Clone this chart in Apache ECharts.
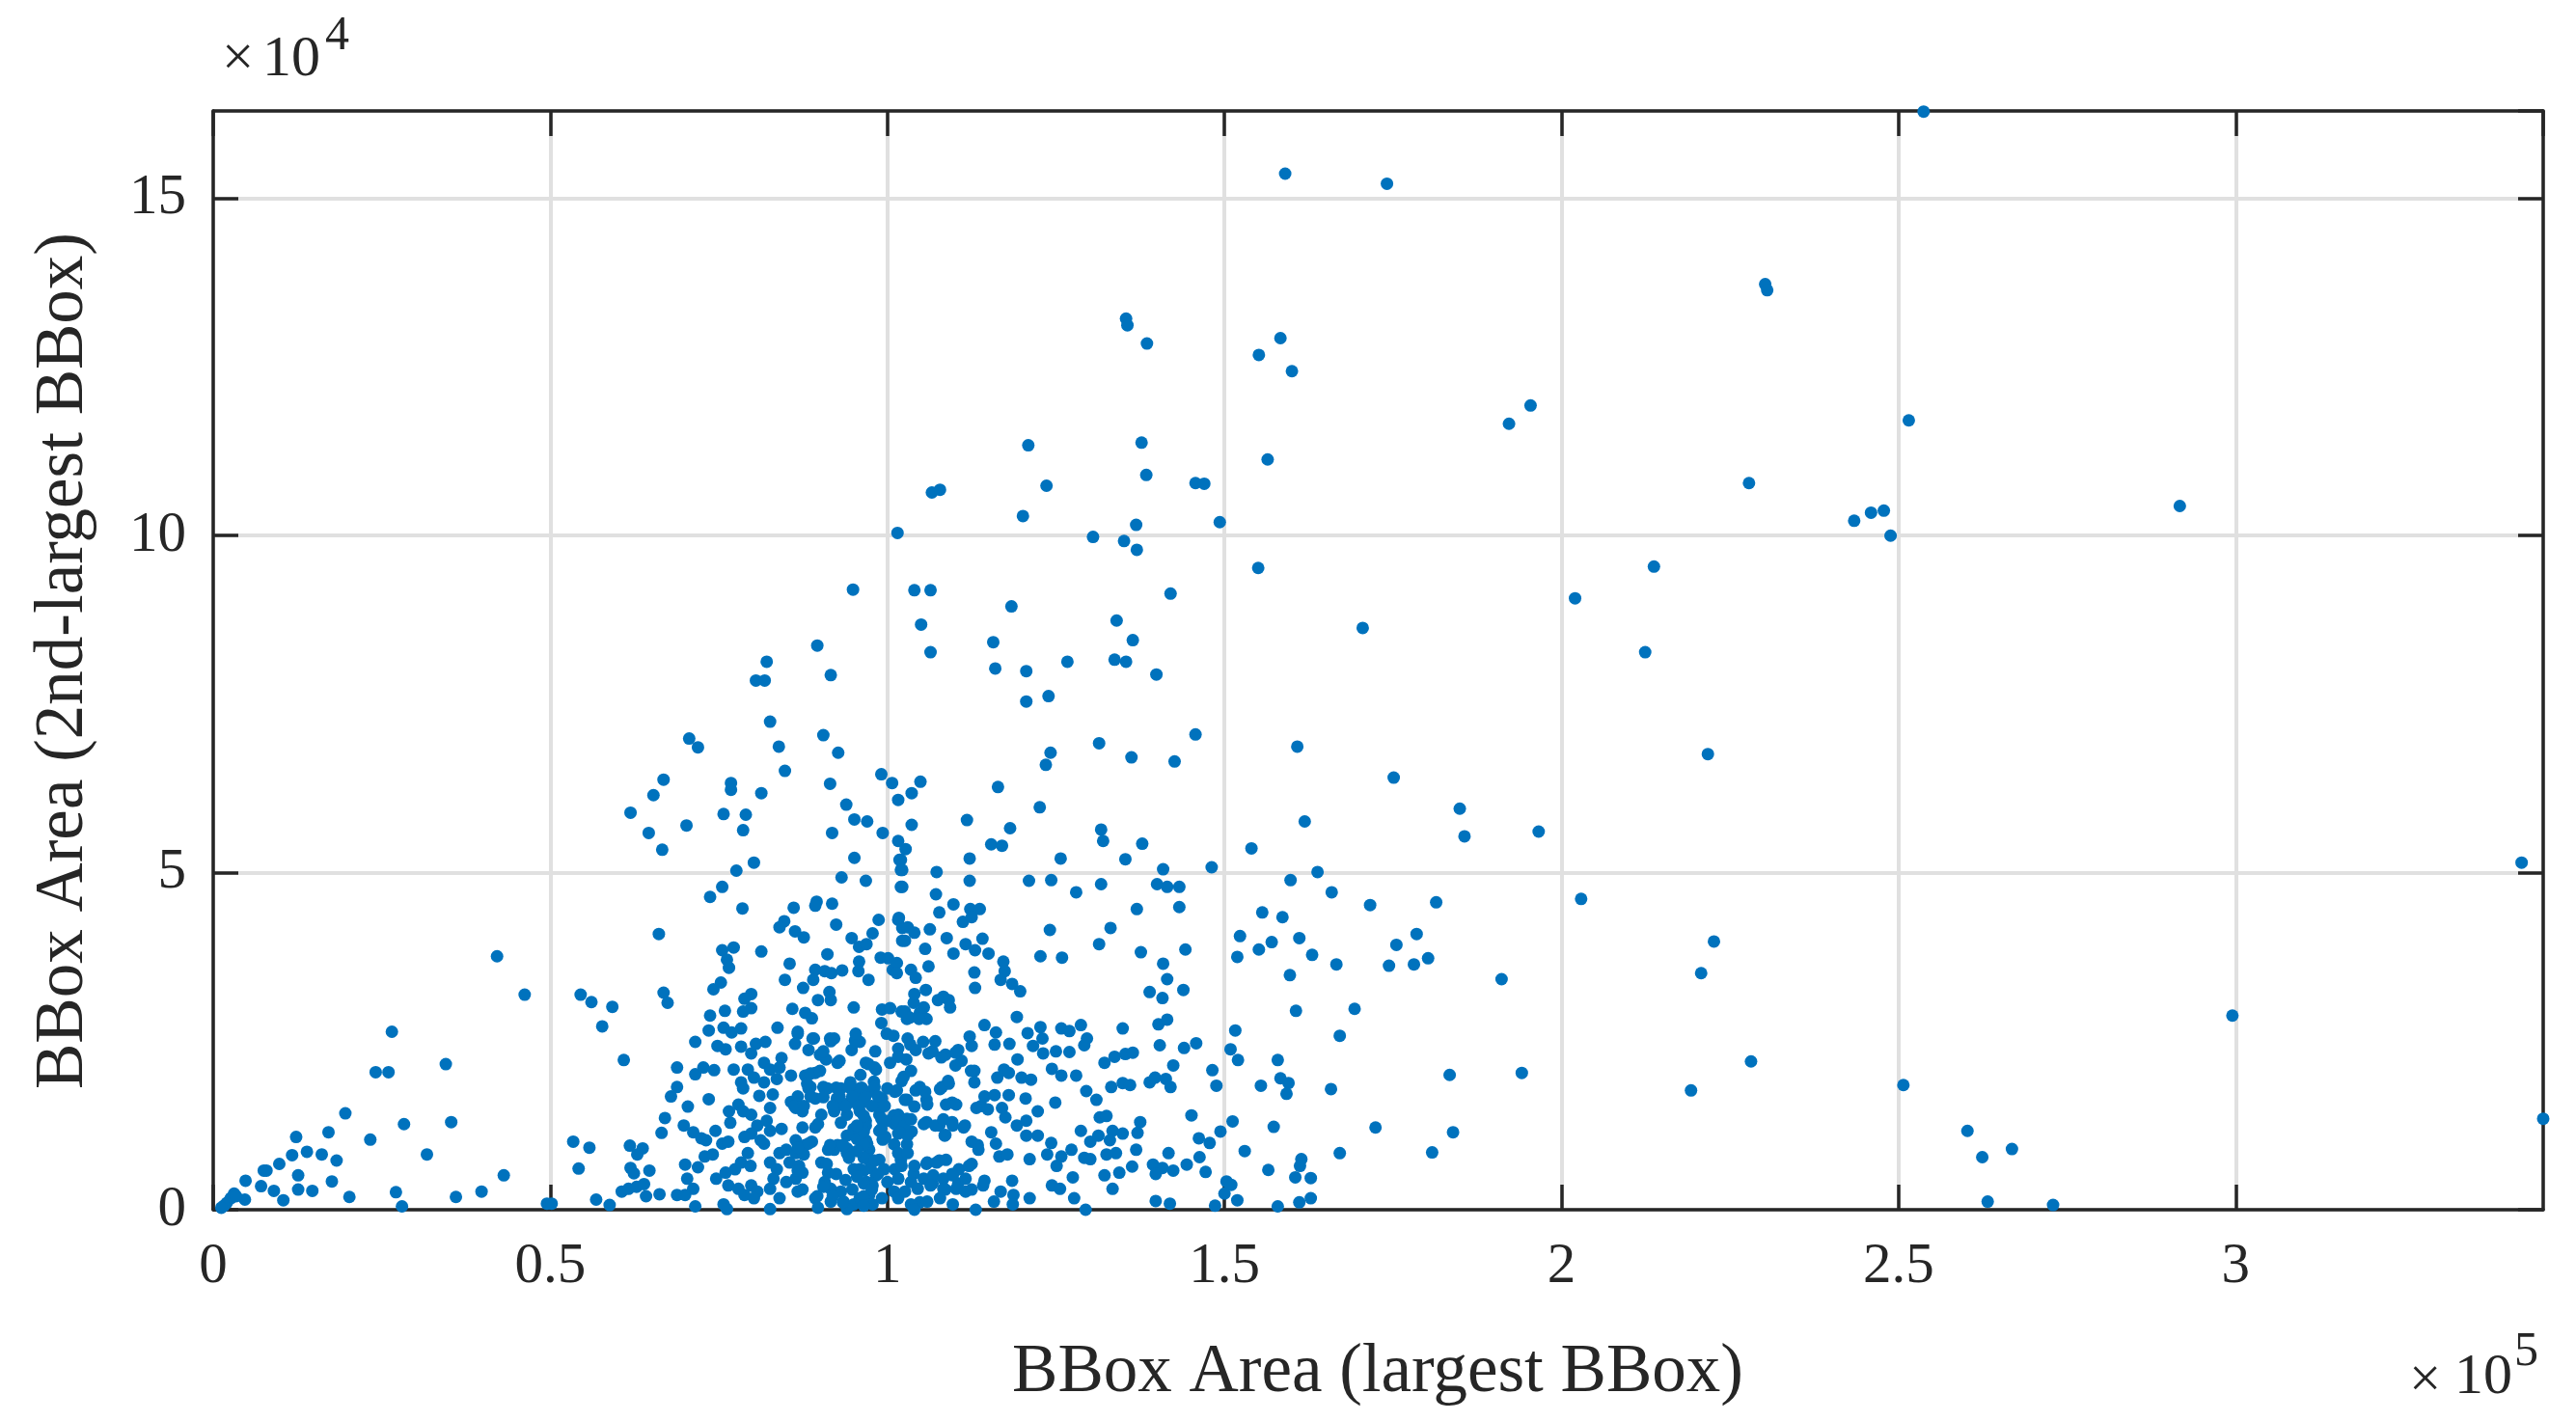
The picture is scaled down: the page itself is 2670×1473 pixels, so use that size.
<!DOCTYPE html>
<html>
<head>
<meta charset="utf-8">
<script src="https://cdn.jsdelivr.net/npm/echarts@6/dist/echarts.min.js"></script>
<style>
html,body{margin:0;padding:0;background:#fff;}
#chart{width:2670px;height:1473px;}
</style>
</head>
<body>
<div id="chart"></div>
<script>
// Values are in axis units: x in 10^5, y in 10^4
const xTickLabels = [0, 0.5, 1, 1.5, 2, 2.5, 3];
const yTickLabels = [0, 5, 10, 15];

const pointsNearOrigin = [
[0.421,3.76],[0.462,3.19],[0.265,2.64],[0.241,2.04],[0.260,2.04],[0.345,2.16],[0.196,1.43],[0.171,1.15],[0.123,1.08],[0.233,1.04],
[0.283,1.27],[0.353,1.30],[0.317,0.82],[0.139,0.86],[0.161,0.82],[0.117,0.81],[0.183,0.73],[0.075,0.58],[0.079,0.58],[0.098,0.68],
[0.126,0.51],[0.048,0.43],[0.071,0.35],[0.090,0.28],[0.126,0.30],[0.147,0.28],[0.176,0.42],[0.271,0.26],[0.431,0.51],[0.398,0.27],
[0.202,0.19],[0.360,0.19],[0.280,0.05],[0.104,0.14],[0.047,0.15],[0.031,0.24],[0.026,0.17],[0.020,0.10],[0.016,0.06],[0.034,0.20],
[0.012,0.03],[0.495,0.09],[0.502,0.09],[0.568,0.15],[0.588,0.07],[0.534,1.01],[0.558,0.92],[0.542,0.61],[0.545,3.19],[0.561,3.08],
[0.592,3.01],[0.577,2.72],[0.609,2.22],[0.619,5.89],[0.653,6.15],[0.668,6.38],[0.646,5.59],[0.666,5.34],[0.702,5.70],[0.706,6.99],
[0.661,4.09],[0.668,3.22],[0.674,3.07],[0.679,1.68],[0.670,1.36],[0.665,1.14],[0.618,0.95],[0.637,0.91],[0.629,0.82],[0.619,0.62],
[0.624,0.54],[0.647,0.58],[0.606,0.27],[0.616,0.31],[0.628,0.34],[0.639,0.38],[0.642,0.20],[0.662,0.23]
];

const pointsCoreLeft = [
[0.802,5.15],[0.776,5.03],[0.755,4.79],[0.737,4.64],[0.785,4.47],[0.951,5.22],[0.932,4.93],[0.968,4.88],[1.020,5.19],[1.020,5.04],
[1.020,4.79],[0.861,4.48],[0.895,4.57],[0.893,4.51],[0.918,4.54],[0.924,4.23],[0.847,4.28],[0.840,4.19],[0.863,4.13],[0.876,4.04],
[0.987,4.30],[0.978,4.10],[0.947,4.03],[0.958,3.90],[0.969,3.94],[1.016,4.30],[1.022,4.18],[1.022,3.99],[0.755,3.85],[0.772,3.89],
[0.762,3.71],[0.765,3.59],[0.813,3.83],[0.911,3.79],[0.855,3.65],[0.848,3.41],[0.893,3.56],[0.907,3.54],[0.917,3.51],[0.933,3.55],
[0.890,3.41],[0.875,3.29],[0.958,3.68],[0.957,3.54],[0.972,3.41],[0.990,3.74],[1.001,3.73],[1.008,3.56],[0.753,3.37],[0.742,3.27],
[0.798,3.20],[0.788,3.13],[0.798,2.99],[0.786,2.94],[0.737,2.88],[0.735,2.66],[0.759,2.95],[0.757,2.70],[0.769,2.63],[0.783,2.69],
[0.837,2.70],[0.897,3.11],[0.914,3.23],[0.916,3.11],[0.859,2.98],[0.878,2.92],[0.888,2.84],[0.950,3.00],[0.992,2.97],[1.004,2.99],
[0.991,2.77],[0.999,2.61],[1.009,2.58],[0.867,2.61],[0.863,2.46],[0.889,2.54],[0.883,2.37],[0.916,2.50],[0.921,2.54],[0.952,2.51],
[0.959,2.49],[0.947,2.37],[0.982,2.35],[1.016,2.39],[0.715,2.49],[0.748,2.43],[0.760,2.38],[0.783,2.42],[0.798,2.32],[0.805,2.46],
[0.819,2.49],[0.843,2.25],[0.900,2.30],[0.909,2.23],[0.926,2.18],[0.968,2.18],[0.983,2.08],[1.004,2.18],[1.016,2.27],[0.688,2.11],
[0.715,2.01],[0.727,2.11],[0.743,2.07],[0.772,2.08],[0.793,2.08],[0.783,1.89],[0.802,1.96],[0.817,2.18],[0.826,2.08],[0.840,2.11],
[0.836,1.94],[0.857,1.99],[0.817,1.89],[0.688,1.82],[0.786,1.80],[0.810,1.69],[0.830,1.71],[0.735,1.64],[0.704,1.53],[0.878,1.99],
[0.893,2.03],[0.883,1.80],[0.893,1.65],[0.911,1.80],[0.931,1.80],[0.945,1.89],[0.959,1.80],[0.973,1.75],[0.992,1.65],[1.011,1.75],
[0.857,1.60],[0.864,1.51],[0.874,1.46],[0.765,1.46],[0.767,1.29],[0.779,1.56],[0.786,1.46],[0.698,1.25],[0.712,1.15],[0.724,1.06],
[0.731,1.03],[0.745,1.17],[0.798,1.41],[0.807,1.25],[0.798,1.13],[0.788,1.08],[0.826,1.51],[0.821,1.32],[0.826,1.17],[0.843,1.20],
[0.817,0.98],[0.812,1.03],[0.793,0.84],[0.755,0.98],[0.764,1.01],[0.902,1.41],[0.921,1.46],[0.931,1.29],[0.940,1.41],[0.959,1.46],
[0.968,1.32],[0.988,1.41],[1.002,1.32],[1.016,1.41],[0.893,1.22],[0.897,1.27],[0.874,1.22],[0.864,1.03],[0.878,0.96],[0.888,1.01],
[0.964,1.17],[0.968,1.03],[0.973,0.89],[0.988,1.17],[0.997,1.08],[1.016,1.13],[1.011,1.27],[0.912,0.89],[0.926,0.96],[0.940,0.91],
[0.700,0.67],[0.719,0.63],[0.729,0.79],[0.741,0.82],[0.703,0.46],[0.712,0.31],[0.688,0.22],[0.700,0.22],[0.715,0.05],[0.746,0.46],
[0.760,0.55],[0.774,0.60],[0.783,0.70],[0.797,0.65],[0.764,0.36],[0.779,0.31],[0.798,0.36],[0.807,0.27],[0.788,0.22],[0.802,0.17],
[0.757,0.08],[0.762,0.01],[0.826,0.70],[0.836,0.60],[0.840,0.84],[0.850,0.89],[0.831,0.46],[0.826,0.31],[0.840,0.17],[0.826,0.01],
[0.864,0.84],[0.874,0.89],[0.883,0.98],[0.855,0.70],[0.869,0.65],[0.850,0.41],[0.864,0.46],[0.874,0.55],[0.867,0.27],[0.893,0.17],
[0.897,0.03],[0.902,0.70],[0.912,0.55],[0.907,0.41],[0.916,0.31],[0.931,0.27],[0.916,0.12],[0.921,0.89],[0.935,0.94],[0.940,0.84],
[0.950,0.60],[0.935,0.12],[0.950,0.08],[0.940,0.01],[0.959,0.60],[0.969,0.41],[0.978,0.36],[0.983,0.51],[0.973,0.22],[0.978,0.08],
[0.959,0.17],[0.966,1.60],[0.968,1.25],[0.970,0.98],[0.972,0.75],[0.975,0.62],[0.988,0.74],[0.995,0.60],[1.000,0.41],[1.010,0.27],
[1.016,0.46],[1.011,0.60],[1.020,0.74],[1.016,0.17],[0.992,0.17],[0.945,1.60],[0.955,1.70],[0.935,1.55],[0.950,1.20],[0.940,1.10],
[0.955,1.05],[0.985,1.55],[0.980,1.90],[0.925,1.65],[0.960,2.00]
];

const pointsCoreDense = [
[0.886,1.82],[0.905,1.82],[0.924,1.81],[0.943,1.82],[0.962,1.81],[0.981,1.82],[1.000,1.80],
[0.867,1.68],[0.886,1.68],[0.905,1.67],[0.929,1.68],[0.948,1.68],[0.967,1.67],[0.986,1.68],
[0.862,1.54],[0.876,1.54],[0.919,1.54],[0.938,1.53],[0.957,1.54],[0.977,1.54],[0.996,1.54],
[0.991,1.35],[1.010,1.40],[1.029,1.35],[1.036,1.16],[1.029,0.97],[1.010,0.97],[0.993,1.04],[0.991,1.20],
[0.965,1.39],[0.965,1.16],[0.965,0.96],[0.965,0.77],[0.965,0.58],[0.965,0.39],[0.965,0.20],[0.965,0.06],
[0.955,1.25],[0.955,0.87],[0.955,0.49],
[0.910,0.68],[0.924,0.53],[0.905,0.34],[0.919,0.20],[0.934,0.11],[0.948,0.30],[0.938,0.44],[0.977,0.30],[0.986,0.53],[0.981,0.73],
[0.896,0.20],[0.943,0.77],[0.915,0.96],[0.934,0.96],[0.876,0.82],[0.867,0.58],[0.874,0.30],[0.867,0.92],
[0.886,2.02],[0.900,2.06],[0.881,1.87],
[0.867,2.64],[0.891,2.54],[0.905,2.35],[0.929,2.21],[0.915,2.54],[0.953,2.49],[0.953,2.61],[0.981,2.11],[0.972,2.16],
[1.058,1.30],[1.077,1.25],[1.096,1.30],[1.115,1.25],[1.086,1.11],[1.058,0.68],[1.077,0.73],[1.096,0.53],[1.067,0.39],[1.086,0.30],
[1.105,0.39],[1.125,0.30],[1.048,0.11],[1.125,0.68],[1.134,0.96],[1.039,0.53],
[1.039,3.07],[1.048,2.92],[1.029,2.83],[1.058,2.83],[1.091,3.11],[1.034,2.45],[1.053,2.49],[1.067,2.35],[1.086,2.30],[1.105,2.37],
[1.110,2.21],[1.129,2.06],[1.091,1.87],[1.081,1.82],[1.048,1.82],[1.024,1.97],[1.029,1.63],[1.058,1.63],[1.096,1.59],[1.139,1.54]
];

const pointsCoreMid = [
[1.018,5.19],[1.022,5.04],[1.022,4.79],[1.122,5.21],[1.257,5.21],[1.353,5.20],[1.073,5.01],[1.122,4.88],[1.210,4.88],[1.243,4.89],
[1.280,4.71],[1.317,4.83],[1.072,4.68],[1.077,4.41],[1.098,4.53],[1.123,4.46],[1.137,4.46],[1.112,4.27],[1.125,4.34],[1.017,4.33],
[1.030,4.19],[1.040,4.11],[1.026,3.99],[1.063,4.16],[1.088,4.03],[1.056,3.87],[1.098,3.80],[1.116,3.94],[1.130,3.85],[1.141,4.02],
[1.150,3.80],[1.241,4.15],[1.331,4.18],[1.314,3.94],[1.227,3.76],[1.259,3.74],[1.014,3.66],[1.014,3.51],[1.035,3.56],[1.042,3.44],
[1.061,3.61],[1.172,3.68],[1.174,3.54],[1.168,3.41],[1.185,3.35],[1.197,3.24],[1.129,3.52],[1.130,3.29],[1.040,3.20],[1.057,3.26],
[1.026,2.94],[1.033,2.85],[1.047,2.83],[1.054,3.00],[1.021,2.94],[1.083,3.16],[1.093,3.00],[1.075,3.11],[1.192,2.86],[1.144,2.74],
[1.161,2.63],[1.122,2.57],[1.125,2.43],[1.159,2.45],[1.181,2.46],[1.193,2.23],[1.208,2.62],[1.227,2.71],[1.230,2.54],[1.216,2.43],
[1.231,2.32],[1.258,2.69],[1.270,2.65],[1.287,2.74],[1.296,2.54],[1.292,2.44],[1.250,2.35],[1.270,2.34],[1.349,2.69],[1.322,2.18],
[1.337,2.27],[1.353,2.31],[1.030,2.54],[1.042,2.37],[1.028,2.23],[1.061,2.32],[1.071,2.50],[1.080,2.26],[1.101,2.33],[1.101,2.14],
[1.035,2.06],[1.021,1.91],[1.014,1.77],[1.026,1.63],[1.042,1.77],[1.056,1.75],[1.059,1.56],[1.040,1.53],[1.078,1.79],[1.090,1.91],
[1.087,1.56],[1.102,1.56],[1.124,2.06],[1.129,1.89],[1.163,1.96],[1.173,2.08],[1.180,2.03],[1.199,1.96],[1.213,1.93],[1.244,2.09],
[1.258,1.99],[1.280,1.99],[1.144,1.68],[1.159,1.70],[1.132,1.51],[1.149,1.49],[1.180,1.70],[1.205,1.65],[1.170,1.51],[1.175,1.37],
[1.192,1.25],[1.223,1.46],[1.206,1.32],[1.249,1.59],[1.295,1.76],[1.310,1.63],[1.332,1.82],[1.349,1.88],[1.315,1.37],[1.325,1.39],
[1.015,1.32],[1.025,1.25],[1.030,1.10],[1.018,1.15],[1.035,1.34],[1.054,1.27],[1.071,1.25],[1.085,1.10],[1.083,1.34],[1.097,1.25],
[1.113,1.22],[1.154,1.15],[1.161,0.98],[1.125,1.01],[1.135,0.89],[1.166,0.79],[1.178,0.82],[1.206,1.10],[1.223,1.10],[1.211,0.75],
[1.243,0.99],[1.237,0.82],[1.258,0.79],[1.251,0.65],[1.273,0.89],[1.287,1.17],[1.301,1.01],[1.313,1.10],[1.292,0.77],[1.301,0.75],
[1.325,0.82],[1.339,0.84],[1.334,1.17],[1.349,1.13],[1.330,1.03],[1.322,0.51],[1.344,0.55],[1.334,0.31],[1.275,0.48],[1.277,0.17],
[1.244,0.36],[1.256,0.31],[1.294,0.00],[1.211,0.17],[1.185,0.43],[1.187,0.22],[1.186,0.08],[1.142,0.36],[1.144,0.43],[1.158,0.12],
[1.168,0.27],[1.131,0.00],[1.016,0.84],[1.030,0.84],[1.021,0.65],[1.040,0.65],[1.059,0.70],[1.073,0.70],[1.087,0.74],[1.106,0.60],
[1.121,0.65],[1.016,0.46],[1.035,0.41],[1.054,0.46],[1.068,0.51],[1.083,0.46],[1.097,0.51],[1.116,0.46],[1.026,0.27],[1.045,0.31],
[1.064,0.36],[1.083,0.31],[1.102,0.31],[1.116,0.27],[1.035,0.08],[1.059,0.12],[1.078,0.17],[1.097,0.08],[1.040,0.00]
];

const pointsCoreRight = [
[1.409,5.05],[1.481,5.08],[1.598,4.89],[1.638,5.01],[1.659,4.71],[1.400,4.83],[1.415,4.79],[1.433,4.79],[1.370,4.46],[1.433,4.49],
[1.556,4.41],[1.586,4.34],[1.523,4.06],[1.519,3.75],[1.551,3.86],[1.570,3.97],[1.611,4.03],[1.630,3.78],[1.666,3.64],[1.597,3.48],
[1.376,3.82],[1.442,3.86],[1.409,3.65],[1.415,3.42],[1.389,3.23],[1.408,3.14],[1.439,3.26],[1.606,2.95],[1.402,2.75],[1.415,2.82],
[1.516,2.66],[1.671,2.58],[1.364,2.33],[1.404,2.44],[1.440,2.40],[1.458,2.47],[1.509,2.38],[1.520,2.22],[1.424,2.14],[1.482,2.07],
[1.579,2.22],[1.360,1.85],[1.389,1.89],[1.397,1.96],[1.413,1.94],[1.420,1.82],[1.488,1.84],[1.554,1.84],[1.583,1.95],[1.595,1.88],
[1.592,1.72],[1.658,1.79],[1.451,1.40],[1.375,1.30],[1.371,1.14],[1.512,1.31],[1.494,1.16],[1.573,1.23],[1.462,1.06],[1.478,0.99],
[1.369,0.89],[1.363,0.64],[1.417,0.84],[1.463,0.78],[1.530,0.87],[1.671,0.84],[1.394,0.67],[1.408,0.62],[1.424,0.58],[1.398,0.53],
[1.444,0.67],[1.472,0.56],[1.614,0.75],[1.612,0.65],[1.605,0.48],[1.628,0.47],[1.565,0.59],[1.503,0.42],[1.510,0.37],[1.500,0.24],
[1.398,0.13],[1.419,0.09],[1.486,0.06],[1.519,0.14],[1.579,0.05],[1.611,0.11],[1.628,0.17]
];

const pointsUpper = [
[1.354,13.22],[1.356,13.12],[1.385,12.85],[1.583,12.93],[1.551,12.68],[1.600,12.44],[1.209,11.34],[1.377,11.38],[1.384,10.90],[1.564,11.13],
[1.236,10.74],[1.066,10.64],[1.078,10.68],[1.457,10.78],[1.470,10.77],[1.201,10.29],[1.369,10.16],[1.493,10.20],[1.015,10.04],[1.305,9.98],
[1.351,9.92],[1.370,9.79],[1.550,9.52],[0.949,9.20],[1.040,9.19],[1.064,9.19],[1.420,9.14],[1.184,8.95],[1.340,8.74],[1.050,8.68],
[1.157,8.42],[1.364,8.45],[0.896,8.37],[1.064,8.27],[0.821,8.13],[0.805,7.85],[0.818,7.85],[0.916,7.93],[1.160,8.03],[1.206,7.99],
[1.267,8.13],[1.337,8.16],[1.354,8.13],[1.399,7.94],[1.206,7.54],[1.239,7.62],[0.826,7.24],[0.719,6.86],[0.905,7.04],[0.839,6.87],
[0.927,6.78],[1.314,6.92],[1.457,7.05],[1.608,6.87],[1.242,6.78],[1.235,6.60],[1.362,6.71],[1.426,6.65],[0.848,6.51],[0.991,6.46],
[1.007,6.33],[1.049,6.35],[1.016,6.08],[1.036,6.18],[0.768,6.33],[0.768,6.23],[0.813,6.18],[0.915,6.32],[1.164,6.27],[0.939,6.01],
[1.226,5.97],[0.757,5.87],[0.790,5.86],[0.951,5.79],[0.970,5.76],[0.918,5.59],[0.993,5.59],[0.786,5.63],[1.016,5.47],[1.027,5.35],
[1.036,5.71],[1.118,5.78],[1.182,5.66],[1.154,5.42],[1.170,5.40],[1.317,5.64],[1.320,5.47],[1.378,5.43],[1.540,5.36],[1.619,5.76]
];

const pointsFarRight = [
[1.716,4.52],[1.814,4.56],[1.785,4.09],[1.755,3.93],[1.744,3.62],[1.781,3.64],[1.802,3.73],[1.911,3.42],[1.693,2.98],[1.834,2.00],
[1.941,2.03],[1.724,1.22],[1.839,1.15],[1.808,0.85],[2.029,4.61],[2.226,3.98],[2.207,3.51],[2.192,1.77],
[2.537,16.29],[1.590,15.37],[1.741,15.22],[2.302,13.73],[2.305,13.64],[1.954,11.93],[1.922,11.66],[2.515,11.71],[2.278,10.78],[2.917,10.44],
[2.434,10.22],[2.459,10.34],[2.478,10.37],[2.488,10.00],[2.137,9.54],[2.020,9.07],[1.705,8.63],[2.124,8.27],[2.217,6.76],[1.751,6.41],
[1.849,5.95],[1.856,5.54],[1.966,5.61],[3.424,5.15],[2.995,2.88],[2.281,2.20],[2.507,1.85],[2.602,1.17],[2.668,0.90],[2.624,0.78],
[3.456,1.35],[2.632,0.12],[2.729,0.07]
];

const allPoints = [].concat(pointsNearOrigin, pointsCoreLeft, pointsCoreDense, pointsCoreMid, pointsCoreRight, pointsUpper, pointsFarRight);

const FONT = "'Liberation Serif', 'Times New Roman', serif";
const INK = '#262626';
const xMax = 3.456, yMax = 16.3;

function isTick(v, list) { return list.some(t => Math.abs(t - v) < 1e-9); }

const axisCommon = {
  type: 'value',
  axisLine: { show: true, onZero: false, lineStyle: { color: INK, width: 3.5 } },
  axisTick: { show: true, inside: true, length: 26, lineStyle: { color: INK, width: 3.5 } },
  splitLine: { show: false }
};

const chart = echarts.init(document.getElementById('chart'), null, { renderer: 'canvas' });
chart.setOption({
  backgroundColor: '#ffffff',
  animation: false,
  grid: { left: 221, right: 34, top: 115, bottom: 219, containLabel: false },
  xAxis: [
    Object.assign({}, axisCommon, {
      position: 'bottom', min: 0, max: xMax, interval: 0.5,
      splitLine: { show: true, lineStyle: { color: '#e0e0e0', width: 4 } },
      axisLabel: {
        show: true, margin: 30, color: INK, fontSize: 59, fontFamily: FONT,
        showMaxLabel: false,
        formatter: v => isTick(v, xTickLabels) ? String(v) : ''
      }
    }),
    Object.assign({}, axisCommon, {
      position: 'top', min: 0, max: xMax, interval: 0.5,
      axisLabel: { show: false }
    })
  ],
  yAxis: [
    Object.assign({}, axisCommon, {
      position: 'left', min: 0, max: yMax, interval: 5,
      splitLine: { show: true, lineStyle: { color: '#e0e0e0', width: 4 } },
      axisLabel: {
        show: true, margin: 28, color: INK, fontSize: 59, fontFamily: FONT,
        showMaxLabel: false,
        formatter: v => isTick(v, yTickLabels) ? String(v) : ''
      }
    }),
    Object.assign({}, axisCommon, {
      position: 'right', min: 0, max: yMax, interval: 5,
      axisLabel: { show: false }
    })
  ],
  series: [{
    type: 'scatter',
    xAxisIndex: 0, yAxisIndex: 0,
    symbol: 'circle',
    symbolSize: 13,
    clip: false,
    itemStyle: { color: '#0072BD', opacity: 1 },
    data: allPoints,
    z: 3
  }],
  graphic: [
    { type: 'text', x: 1428, y: 1423, style: { text: 'BBox Area (largest BBox)', fill: INK, fontSize: 71, fontFamily: FONT, textAlign: 'center', textVerticalAlign: 'middle' } },
    { type: 'text', x: 66, y: 685, rotation: Math.PI / 2, style: { text: 'BBox Area (2nd-largest BBox)', fill: INK, fontSize: 71, fontFamily: FONT, textAlign: 'center', textVerticalAlign: 'middle' } },
    { type: 'text', x: 230, y: 62, style: { text: '×', fill: INK, fontSize: 59, fontFamily: FONT, textAlign: 'left', textVerticalAlign: 'middle' } },
    { type: 'text', x: 272, y: 62, style: { text: '10', fill: INK, fontSize: 60, fontFamily: FONT, textAlign: 'left', textVerticalAlign: 'middle' } },
    { type: 'text', x: 337, y: 38, style: { text: '4', fill: INK, fontSize: 50, fontFamily: FONT, textAlign: 'left', textVerticalAlign: 'middle' } },
    { type: 'text', x: 2497, y: 1432, style: { text: '×', fill: INK, fontSize: 59, fontFamily: FONT, textAlign: 'left', textVerticalAlign: 'middle' } },
    { type: 'text', x: 2544, y: 1428, style: { text: '10', fill: INK, fontSize: 60, fontFamily: FONT, textAlign: 'left', textVerticalAlign: 'middle' } },
    { type: 'text', x: 2606, y: 1402, style: { text: '5', fill: INK, fontSize: 50, fontFamily: FONT, textAlign: 'left', textVerticalAlign: 'middle' } }
  ]
});
</script>
</body>
</html>
